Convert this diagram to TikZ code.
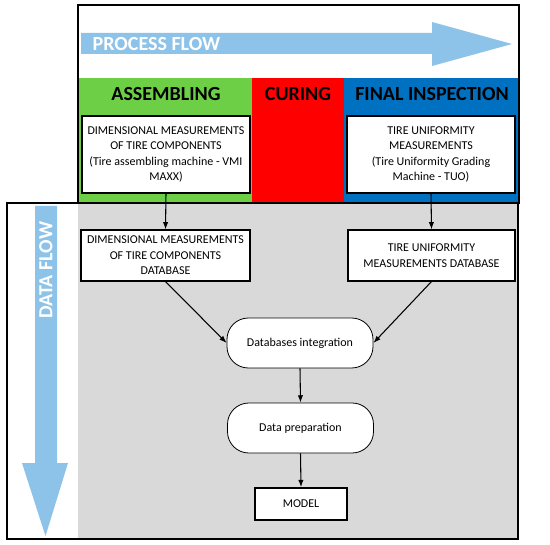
\documentclass[tikz,border=0pt]{standalone}
\usepackage{fontspec}
\setmainfont{Carlito}
\usetikzlibrary{arrows.meta}
\definecolor{flowblue}{HTML}{8DC3E8}
\definecolor{asmgreen}{HTML}{6CCF45}
\definecolor{curred}{HTML}{FF0000}
\definecolor{insblue}{HTML}{0070C0}
\definecolor{datagray}{HTML}{D9D9D9}
\tikzset{
  infobox/.style={draw=black, line width=0.8pt, fill=white, align=center, inner sep=0pt,
    font=\fontsize{9}{11.6}\selectfont},
  procbox/.style={draw=black, line width=0.6pt, fill=white, rounded corners=16pt, align=center,
    font=\fontsize{9}{11}\selectfont, minimum width=146*0.75pt, minimum height=50*0.75pt},
  heading/.style={font=\fontsize{15}{18}\selectfont\bfseries},
  flowlabel/.style={font=\fontsize{15}{18}\selectfont\bfseries, text=white},
  conn/.style={-{Latex[length=5.5pt,width=4pt]}, line width=0.8pt}
}
\begin{document}
\begin{tikzpicture}[x=0.75pt,y=-0.75pt]
\useasboundingbox (0,0) rectangle (550,545);
% top box
\fill[white] (78,5) rectangle (519,203);
% process flow arrow
\fill[flowblue] (81,33) -- (432,33) -- (432,22) -- (512,44) -- (432,66) -- (432,54) -- (81,54) -- cycle;
\node[flowlabel, anchor=west] (pf) at (88,44) {PROCESS FLOW};
% colored bands
\fill[asmgreen] (78,78) rectangle (252,203);
\fill[curred] (252,78) rectangle (344,203);
\fill[insblue] (344,78) rectangle (519,203);
\node[heading] (asm) at (166,94) {ASSEMBLING};
\node[heading] (cur) at (298,94) {CURING};
\node[heading] (ins) at (432,94) {FINAL INSPECTION};
\draw[line width=1.2pt] (78,5) rectangle (519,203);
% data box
\fill[white] (7,203) rectangle (518,539);
\fill[datagray] (78,203) rectangle (518,539);
\fill[flowblue] (35,206) -- (57,206) -- (57,463) -- (68,463) -- (45.5,536) -- (22,463) -- (35,463) -- cycle;
\node[flowlabel, rotate=90] (df) at (46,270) {DATA FLOW};
\draw[line width=1.5pt] (7,203) rectangle (518,539);
% nodes
\node[infobox, minimum width=168*0.75pt, minimum height=77*0.75pt] (dimm) at (166,154.5)
  {DIMENSIONAL MEASUREMENTS\\OF TIRE COMPONENTS\\(Tire assembling machine - VMI\\MAXX)};
\node[infobox, minimum width=168*0.75pt, minimum height=77*0.75pt] (tum) at (431,154.5)
  {TIRE UNIFORMITY\\MEASUREMENTS\\(Tire Uniformity Grading\\Machine - TUO)};
\node[infobox, minimum width=169*0.75pt, minimum height=51*0.75pt] (dimdb) at (165.5,255.5)
  {DIMENSIONAL MEASUREMENTS\\OF TIRE COMPONENTS\\DATABASE};
\node[infobox, minimum width=167*0.75pt, minimum height=51*0.75pt] (tudb) at (431.5,255.5)
  {TIRE UNIFORMITY\\MEASUREMENTS DATABASE};
\node[procbox] (integ) at (300,343) {Databases integration};
\node[procbox] (prep) at (300.5,428) {Data preparation};
\node[infobox, line width=1.2pt, minimum width=92*0.75pt, minimum height=32*0.75pt] (model) at (301,504) {MODEL};
% connectors
\draw[conn] (dimm.south) -- (dimdb.north);
\draw[conn] (tum.south) -- (tudb.north);
\draw[conn] (dimdb.south) -- (integ.west);
\draw[conn] (tudb.south) -- (integ.east);
\draw[conn] (integ.south) -- (prep.north);
\draw[conn] (prep.south) -- (model.north);
\end{tikzpicture}
\end{document}
